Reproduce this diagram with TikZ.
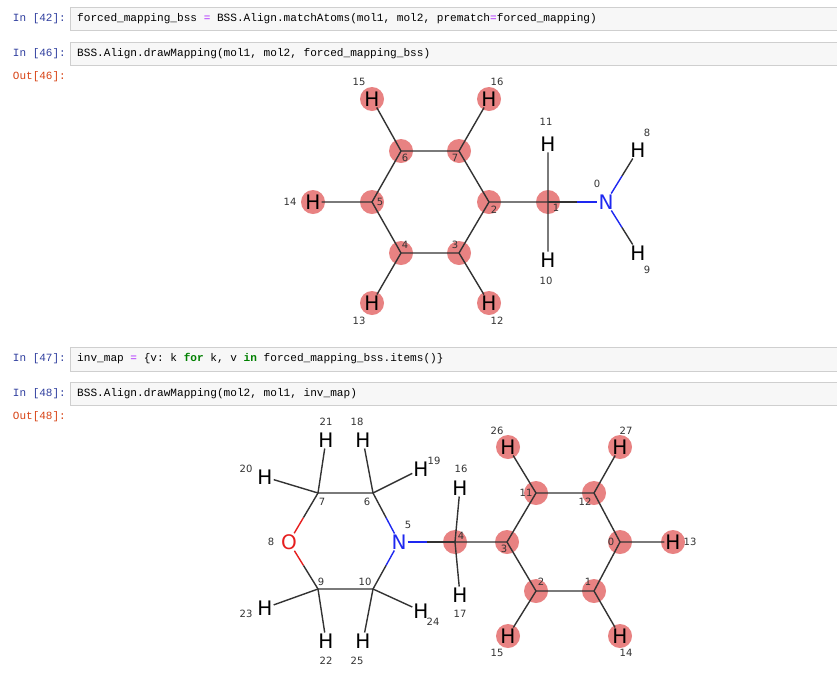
\documentclass[tikz,border=0pt]{standalone}
\usepackage{fontspec}
\setmainfont{DejaVu Sans}
\setmonofont{Liberation Mono}
\usetikzlibrary{calc}
\definecolor{inblue}{RGB}{48,63,159}
\definecolor{outred}{RGB}{216,67,21}
\definecolor{hl}{RGB}{232,130,130}
\definecolor{nblue}{RGB}{30,40,240}
\definecolor{ored}{RGB}{230,30,30}
\definecolor{cellbg}{RGB}{247,247,247}
\definecolor{cellbd}{RGB}{207,207,207}
\definecolor{kw}{RGB}{0,128,0}
\definecolor{op}{RGB}{170,34,255}
\tikzset{
  bond/.style={line width=1.4pt,black!80},
  hatom/.style={inner sep=1pt,font=\fontsize{20}{20}\selectfont},
  natom/.style={inner sep=1pt,font=\fontsize{20}{20}\selectfont,text=nblue},
  oatom/.style={inner sep=1pt,font=\fontsize{20}{20}\selectfont,text=ored},
  num/.style={inner sep=0pt,font=\fontsize{10}{10}\selectfont,text=black!80},
  hlc/.style={fill=hl,draw=none},
  cell/.style={draw=cellbd,fill=cellbg,line width=0.6pt},
  prompt/.style={anchor=east,inner sep=0pt,font=\ttfamily\fontsize{11}{11}\selectfont},
  code/.style={anchor=west,inner sep=0pt,font=\ttfamily\fontsize{11.1}{11}\selectfont}
}
\newcommand\hb[4]{\draw[bond,#3] (#1) -- ($(#1)!.5!(#2)$); \draw[bond,#4] ($(#1)!.5!(#2)$) -- (#2);}
\begin{document}
\begin{tikzpicture}[x=1pt,y=-1pt]
\useasboundingbox (0,0) rectangle (837,678);
\fill[white] (0,0) rectangle (837,678);
% cells
\draw[cell] (70,7) rectangle (837,30);
\node[prompt,text=inblue] (p42) at (66,19) {In [42]:};
\node[code] (c42) at (77,19) {forced\_mapping\_bss {\color{op}=} BSS.Align.matchAtoms(mol1, mol2, prematch{\color{op}=}forced\_mapping)};
\draw[cell] (70,42) rectangle (837,65);
\node[prompt,text=inblue] (p46) at (66,54) {In [46]:};
\node[code] (c46) at (77,54) {BSS.Align.drawMapping(mol1, mol2, forced\_mapping\_bss)};
\node[prompt,text=outred] (o46) at (66,77) {Out[46]:};
\draw[cell] (70,347) rectangle (837,371);
\node[prompt,text=inblue] (p47) at (66,359) {In [47]:};
\node[code] (c47) at (77,359) {inv\_map {\color{op}=} \{v: k {\color{kw}\bfseries for} k, v {\color{kw}\bfseries in} forced\_mapping\_bss.items()\}};
\draw[cell] (70,382) rectangle (837,405);
\node[prompt,text=inblue] (p48) at (66,394) {In [48]:};
\node[code] (c48) at (77,394) {BSS.Align.drawMapping(mol2, mol1, inv\_map)};
\node[prompt,text=outred] (o48) at (66,417) {Out[48]:};

% ===== molecule 1 =====
\foreach \p in {(372,99),(489,99),(401,151),(459,151),(313,202),(372,202),(489,202),(548,202),(401,253),(459,253),(372,303),(489,303)}
  \fill[hlc] \p circle (12);
\coordinate (a1) at (548,202);
\coordinate (a2) at (489,202);
\coordinate (a3) at (459,253);
\coordinate (a4) at (401,253);
\coordinate (a5) at (372,202);
\coordinate (a6) at (401,151);
\coordinate (a7) at (459,151);
\node[natom] (a0) at (606,202) {N};
\node[hatom] (h8) at (638,150) {H};
\node[hatom] (h9) at (638,253) {H};
\node[hatom] (h10) at (548,260) {H};
\node[hatom] (h11) at (548,144) {H};
\node[hatom] (h12) at (489,303) {H};
\node[hatom] (h13) at (372,303) {H};
\node[hatom] (h14) at (313,202) {H};
\node[hatom] (h15) at (372,99) {H};
\node[hatom] (h16) at (489,99) {H};
\draw[bond] (a2)--(a7)--(a6)--(a5)--(a4)--(a3)--(a2)--(a1);
\draw[bond] (a6)--(h15) (a7)--(h16) (a5)--(h14) (a4)--(h13) (a3)--(h12) (a1)--(h11) (a1)--(h10);
\hb{a1}{a0}{}{nblue}
\hb{a0}{h8}{nblue}{}
\hb{a0}{h9}{nblue}{}
\node[num] (n0) at (597,184) {0};
\node[num] (n1) at (556,208) {1};
\node[num] (n2) at (494,210) {2};
\node[num] (n3) at (455,245) {3};
\node[num] (n4) at (405,245) {4};
\node[num] (n5) at (380,202) {5};
\node[num] (n6) at (405,158) {6};
\node[num] (n7) at (455,158) {7};
\node[num] (n8) at (647,133) {8};
\node[num] (n9) at (647,270) {9};
\node[num] (n10) at (546,281) {10};
\node[num] (n11) at (546,122) {11};
\node[num] (n12) at (497,321) {12};
\node[num] (n13) at (359,321) {13};
\node[num] (n14) at (290,202) {14};
\node[num] (n15) at (359,82) {15};
\node[num] (n16) at (497,82) {16};

% ===== molecule 2 =====
\foreach \p in {(455,542),(507,542),(536,493),(594,493),(620,542),(594,591),(536,591),(508,447),(620,447),(673,542),(508,636),(620,636)}
  \fill[hlc] \p circle (12);
\coordinate (b0) at (620,542);
\coordinate (b1) at (594,591);
\coordinate (b2) at (536,591);
\coordinate (b3) at (507,542);
\coordinate (b4) at (455,542);
\coordinate (b11) at (536,493);
\coordinate (b12) at (594,493);
\coordinate (b6) at (373,493);
\coordinate (b7) at (318,493);
\coordinate (b9) at (318,589);
\coordinate (b10) at (373,589);
\node[natom] (b5) at (399,542) {N};
\node[oatom] (b8) at (289,542) {O};
\node[hatom] (h213) at (673,542) {H};
\node[hatom] (h214) at (620,636) {H};
\node[hatom] (h215) at (508,636) {H};
\node[hatom] (h216) at (460,488) {H};
\node[hatom] (h217) at (460,595) {H};
\node[hatom] (h218) at (363,440) {H};
\node[hatom] (h219) at (421,469) {H};
\node[hatom] (h220) at (265,477) {H};
\node[hatom] (h221) at (326,440) {H};
\node[hatom] (h222) at (326,641) {H};
\node[hatom] (h223) at (265,608) {H};
\node[hatom] (h224) at (421,611) {H};
\node[hatom] (h225) at (363,641) {H};
\node[hatom] (h226) at (508,447) {H};
\node[hatom] (h227) at (620,447) {H};
\draw[bond] (b3)--(b11)--(b12)--(b0)--(b1)--(b2)--(b3)--(b4);
\draw[bond] (b11)--(h226) (b12)--(h227) (b0)--(h213) (b1)--(h214) (b2)--(h215);
\draw[bond] (b4)--(h216) (b4)--(h217) (b7)--(b6) (b9)--(b10);
\draw[bond] (b6)--(h218) (b6)--(h219) (b7)--(h220) (b7)--(h221) (b9)--(h222) (b9)--(h223) (b10)--(h224) (b10)--(h225);
\hb{b5}{b4}{nblue}{}
\hb{b5}{b6}{nblue}{}
\hb{b5}{b10}{nblue}{}
\hb{b8}{b7}{ored}{}
\hb{b8}{b9}{ored}{}
\node[num] (m0) at (611,542) {0};
\node[num] (m1) at (588,582) {1};
\node[num] (m2) at (541,582) {2};
\node[num] (m3) at (504,549) {3};
\node[num] (m4) at (461,536) {4};
\node[num] (m5) at (408,525) {5};
\node[num] (m6) at (367,502) {6};
\node[num] (m7) at (322,502) {7};
\node[num] (m8) at (271,542) {8};
\node[num] (m9) at (321,582) {9};
\node[num] (m10) at (365,582) {10};
\node[num] (m11) at (526,493) {11};
\node[num] (m12) at (585,502) {12};
\node[num] (m13) at (690,542) {13};
\node[num] (m14) at (626,653) {14};
\node[num] (m15) at (497,653) {15};
\node[num] (m16) at (461,469) {16};
\node[num] (m17) at (460,614) {17};
\node[num] (m18) at (357,422) {18};
\node[num] (m19) at (434,461) {19};
\node[num] (m20) at (246,469) {20};
\node[num] (m21) at (326,422) {21};
\node[num] (m22) at (326,661) {22};
\node[num] (m23) at (246,614) {23};
\node[num] (m24) at (433,622) {24};
\node[num] (m25) at (357,661) {25};
\node[num] (m26) at (497,431) {26};
\node[num] (m27) at (626,431) {27};
\end{tikzpicture}
\end{document}
